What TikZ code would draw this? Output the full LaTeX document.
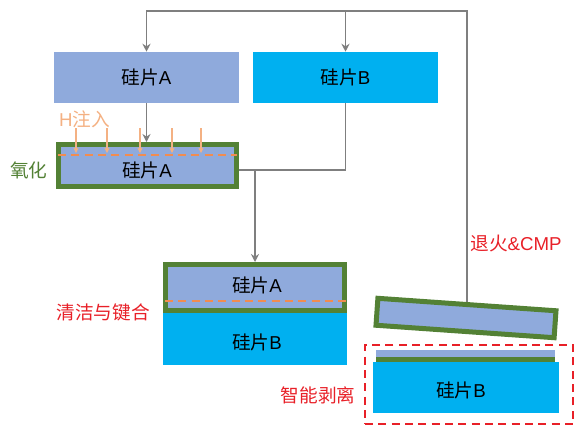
\documentclass[tikz,border=0pt]{standalone}
\usepackage{fontspec}
\setmainfont{Liberation Sans}
\newfontfamily\cjk{Noto Sans CJK SC}
\usetikzlibrary{arrows.meta, positioning}

\definecolor{waferA}{RGB}{143,170,220}
\definecolor{waferB}{RGB}{0,176,240}
\definecolor{oxgreen}{RGB}{83,129,53}
\definecolor{cutline}{RGB}{241,140,80}
\definecolor{implant}{RGB}{244,177,131}
\definecolor{steptext}{RGB}{232,32,40}
\definecolor{linkgray}{RGB}{127,127,127}

\begin{document}
\begin{tikzpicture}[
    x=0.75pt, y=-0.75pt,
    font=\fontsize{14}{16}\selectfont,
    wafa/.style={rectangle, fill=waferA, minimum width=138.75pt, minimum height=38.25pt},
    wafb/.style={rectangle, fill=waferB, minimum width=138.75pt, minimum height=38.25pt},
    oxide/.style={rectangle, draw=oxgreen, line width=3.75pt, fill=waferA, inner sep=0pt},
    link/.style={linkgray, line width=1.2pt},
    flow/.style={-{Stealth[length=6pt, width=6pt]}, linkgray, line width=1.2pt},
    hin/.style={-{Stealth[length=4pt, width=4pt]}, implant, line width=1pt},
    cut/.style={cutline, dashed, dash pattern=on 6pt off 4pt, line width=1.5pt},
    steplabel/.style={text=steptext}
]
\useasboundingbox (0,0) rectangle (582,433);

% Starting wafers
\node[wafa] (a1) at (146.5,77.5) {{\cjk 硅片}A};
\node[wafb] (b1) at (345.5,77.5) {{\cjk 硅片}B};

% Oxidation + H implant
\node[oxide, minimum width=133.5pt, minimum height=31.5pt] (a2) at (147.5,165.5) {};
\node (a2t) at (147,170) {{\cjk 硅片}A};
\node[text=oxgreen] (ox) at (29,170) {\cjk 氧化};
\node[text=implant] (hlab) at (84.5,119) {H{\cjk 注入}};
\foreach \x in {76,107,140,172,201}
  \draw[hin] (\x,128) -- (\x,153);
\draw[cut] (58,155) -- (237,155);

% Bonding
\node[oxide, minimum width=134.25pt, minimum height=34.5pt] (ab) at (255,287.5) {};
\node (abt) at (257,285) {{\cjk 硅片}A};
\node[wafb, minimum width=138pt, minimum height=39pt] (b2) at (255,339) {};
\node (b2t) at (257,342) {{\cjk 硅片}B};
\draw[cut] (165,301) -- (347,301);
\node[steplabel] (bond) at (103,312) {\cjk 清洁与键合};

% Annealing + CMP, split
\node[oxide, rotate=-4, minimum width=133.9pt, minimum height=20.25pt] (tw) at (466,318) {};
\node[steplabel] (anneal) at (516,244) {{\cjk 退火}\&CMP};
\node[rectangle, draw=steptext, line width=1.5pt, dash pattern=on 6pt off 4pt,
      minimum width=156pt, minimum height=59.25pt] (split) at (469,384.5) {};
\node[wafa, minimum width=134.25pt, minimum height=5.25pt, inner sep=0pt] (thin) at (465.5,353.5) {};
\node[rectangle, fill=oxgreen, minimum width=134.25pt, minimum height=3.75pt, inner sep=0pt] (thox) at (465.5,359.5) {};
\node[wafb, minimum width=139.5pt, minimum height=38.25pt] (b3) at (466,387.5) {};
\node (b3t) at (461,390) {{\cjk 硅片}B};
\node[steplabel] (smart) at (318,395) {\cjk 智能剥离};

% Connectors
\coordinate (top) at (0,11);
\draw[flow] (tw.north) -- (tw.north |- top) -- (a1.north |- top) -- (a1.north);
\draw[flow] (b1.north |- top) -- (b1.north);
\draw[flow] (a1.south) -- (a1.south |- a2.north);
\draw[link] (b1.south) |- (a2.east |- a2t);
\coordinate (join) at (ab.north |- a2t);
\draw[flow] (join) -- (ab.north);
\end{tikzpicture}
\end{document}
